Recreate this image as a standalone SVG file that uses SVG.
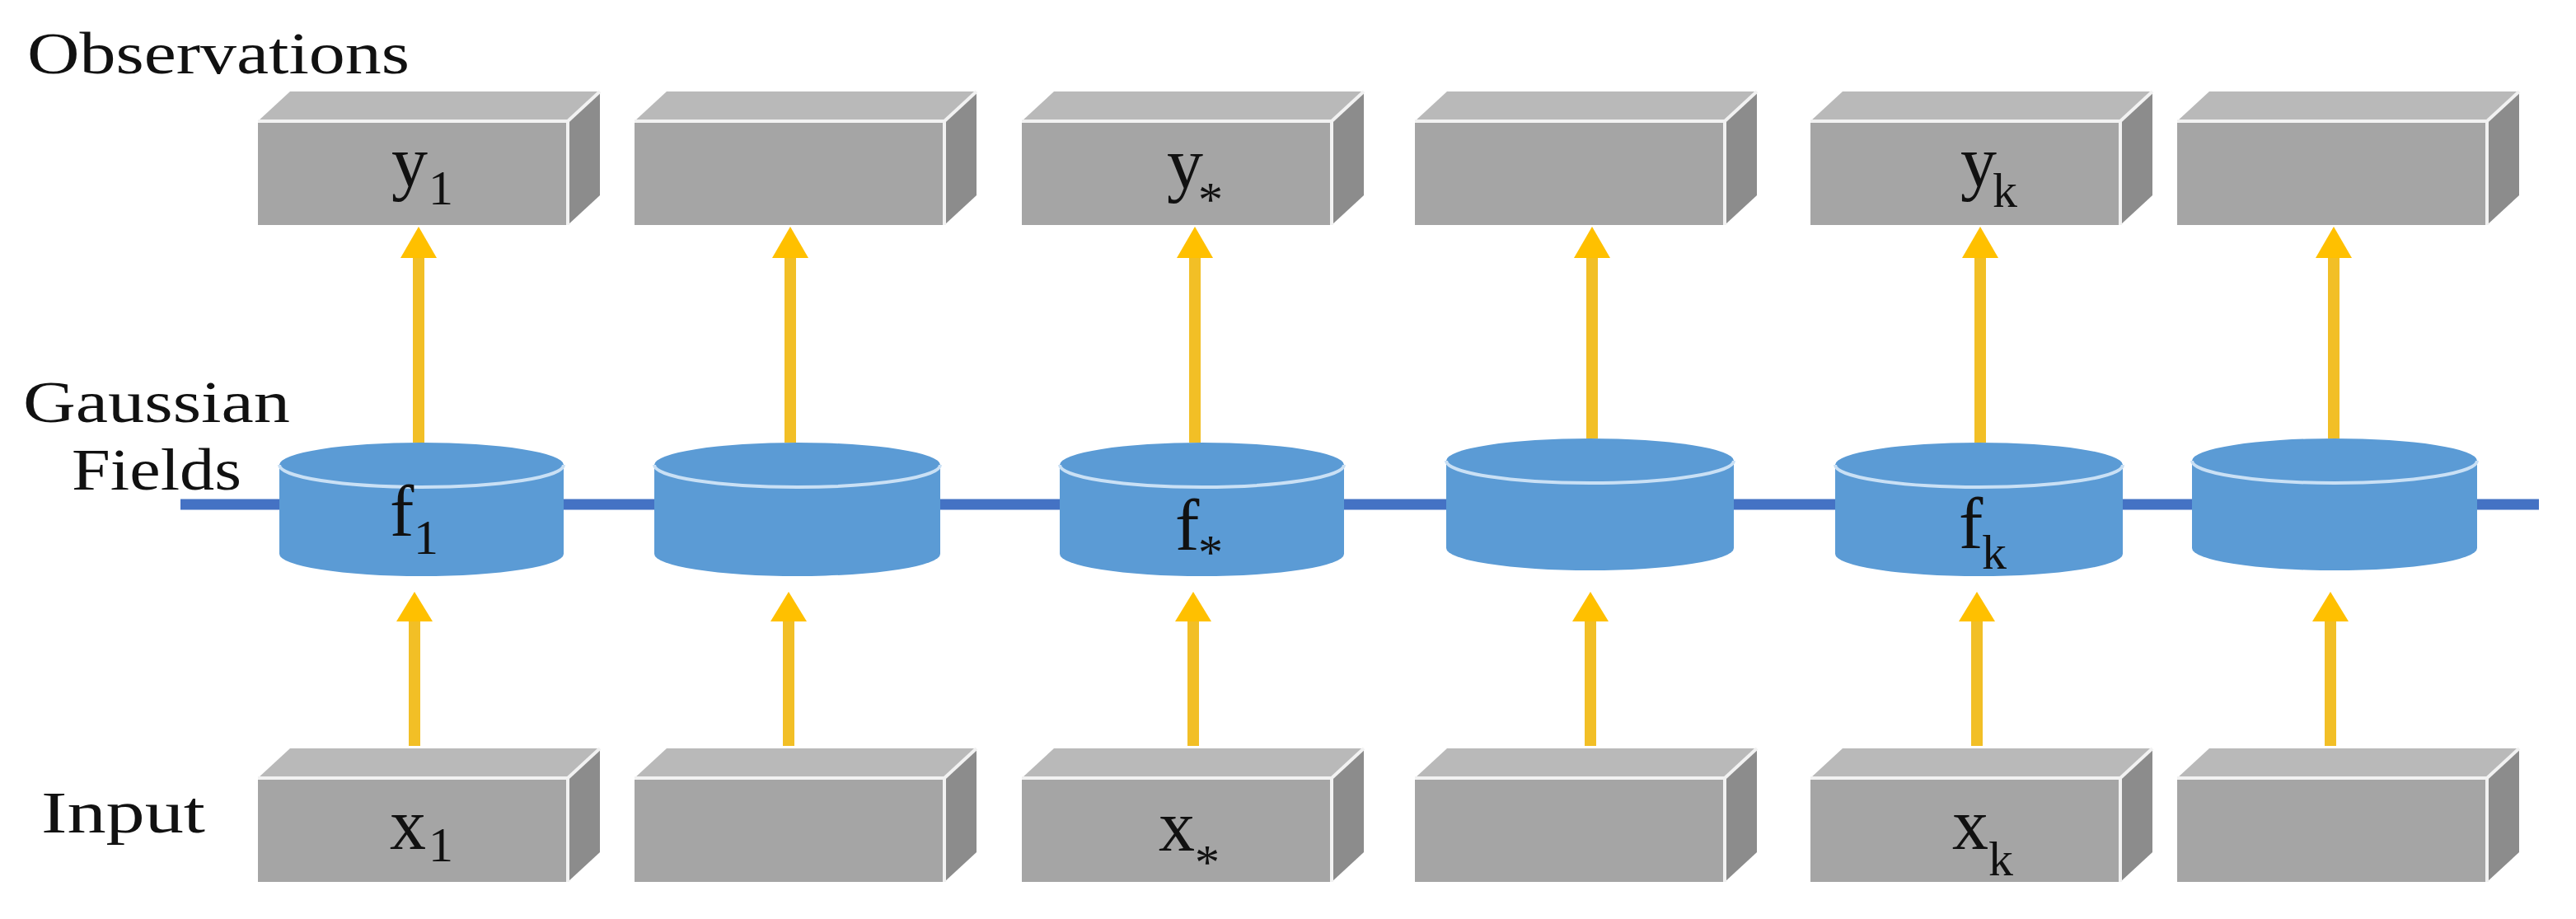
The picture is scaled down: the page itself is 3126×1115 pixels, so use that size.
<svg xmlns="http://www.w3.org/2000/svg" width="3126" height="1115" viewBox="0 0 3126 1115">
<defs>
<style>
.front{fill:#a5a5a5}
.top{fill:#b9b9b9}
.side{fill:#8c8c8c}
.edge{fill:none;stroke:#f2f2f2;stroke-width:4}
.cyl{fill:#5b9bd5}
.rim{fill:none;stroke:#c9e0f5;stroke-width:4}
.lbl{font-family:"Liberation Serif","DejaVu Serif",serif;fill:#111}
.main{font-size:88px}
.sub{font-size:60px}
.side-lbl{font-family:"Liberation Serif","DejaVu Serif",serif;font-size:72px;fill:#111}
.shaft{stroke:#f2bf26;stroke-width:14}
.head{fill:#ffc000}
.link{stroke:#4472c4;stroke-width:13}
</style>
<g id="box">
<polygon class="top" points="0,36 39,0 415,0 376,36"/>
<polygon class="side" points="376,36 415,0 415,126 376,162"/>
<rect class="front" x="0" y="36" width="376" height="126"/>
<polyline class="edge" points="0,36 376,36 376,162"/>
<line class="edge" x1="376" y1="36" x2="415" y2="0"/>
</g>
</defs>
<rect width="3126" height="1115" fill="#fff"/>
<text class="side-lbl" x="33" y="89" textLength="464" lengthAdjust="spacingAndGlyphs">Observations</text>
<text class="side-lbl" x="28" y="512" textLength="324" lengthAdjust="spacingAndGlyphs">Gaussian</text>
<text class="side-lbl" x="87" y="594" textLength="206" lengthAdjust="spacingAndGlyphs">Fields</text>
<text class="side-lbl" x="50" y="1010" textLength="199" lengthAdjust="spacingAndGlyphs">Input</text>

<g id="connectors">
<line class="link" x1="219" y1="612" x2="3081" y2="612"/>
<g id="arrows-up">
<line class="shaft" x1="508" y1="537" x2="508" y2="310"/><polygon class="head" points="508,275 486,313 530,313"/>
<line class="shaft" x1="959" y1="537" x2="959" y2="310"/><polygon class="head" points="959,275 937,313 981,313"/>
<line class="shaft" x1="1450" y1="537" x2="1450" y2="310"/><polygon class="head" points="1450,275 1428,313 1472,313"/>
<line class="shaft" x1="1932" y1="532" x2="1932" y2="310"/><polygon class="head" points="1932,275 1910,313 1954,313"/>
<line class="shaft" x1="2403" y1="537" x2="2403" y2="310"/><polygon class="head" points="2403,275 2381,313 2425,313"/>
<line class="shaft" x1="2832" y1="532" x2="2832" y2="310"/><polygon class="head" points="2832,275 2810,313 2854,313"/>
</g>
<g id="arrows-in">
<line class="shaft" x1="503" y1="905" x2="503" y2="750"/><polygon class="head" points="503,718 481,754 525,754"/>
<line class="shaft" x1="957" y1="905" x2="957" y2="750"/><polygon class="head" points="957,718 935,754 979,754"/>
<line class="shaft" x1="1448" y1="905" x2="1448" y2="750"/><polygon class="head" points="1448,718 1426,754 1470,754"/>
<line class="shaft" x1="1930" y1="905" x2="1930" y2="750"/><polygon class="head" points="1930,718 1908,754 1952,754"/>
<line class="shaft" x1="2399" y1="905" x2="2399" y2="750"/><polygon class="head" points="2399,718 2377,754 2421,754"/>
<line class="shaft" x1="2828" y1="905" x2="2828" y2="750"/><polygon class="head" points="2828,718 2806,754 2850,754"/>
</g>
</g>

<g id="obs1"><use href="#box" x="313" y="111"/><text class="lbl main" x="475" y="226">y</text><text class="lbl sub" x="520" y="248">1</text></g>
<g id="obs2"><use href="#box" x="770" y="111"/></g>
<g id="obs3"><use href="#box" x="1240" y="111"/><text class="lbl main" x="1416" y="228">y</text><text class="lbl sub" x="1454" y="262">*</text></g>
<g id="obs4"><use href="#box" x="1717" y="111"/></g>
<g id="obs5"><use href="#box" x="2197" y="111"/><text class="lbl main" x="2379" y="226">y</text><text class="lbl sub" x="2418" y="251">k</text></g>
<g id="obs6"><use href="#box" x="2642" y="111"/></g>

<g id="gf1"><path class="cyl" d="M339,564 V672 A172.5,27 0 0 0 684,672 V564 A172.5,27 0 0 0 339,564 Z"/><path class="rim" d="M339,564 A172.5,27 0 0 0 684,564"/><text class="lbl main" x="473" y="650">f</text><text class="lbl sub" x="502" y="672">1</text></g>
<g id="gf2"><path class="cyl" d="M794,564 V672 A173.5,27 0 0 0 1141,672 V564 A173.5,27 0 0 0 794,564 Z"/><path class="rim" d="M794,564 A173.5,27 0 0 0 1141,564"/></g>
<g id="gf3"><path class="cyl" d="M1286,564 V672 A172.5,27 0 0 0 1631,672 V564 A172.5,27 0 0 0 1286,564 Z"/><path class="rim" d="M1286,564 A172.5,27 0 0 0 1631,564"/><text class="lbl main" x="1426" y="667">f</text><text class="lbl sub" x="1454" y="690">*</text></g>
<g id="gf4"><path class="cyl" d="M1755,559 V665 A174.5,27 0 0 0 2104,665 V559 A174.5,27 0 0 0 1755,559 Z"/><path class="rim" d="M1755,559 A174.5,27 0 0 0 2104,559"/></g>
<g id="gf5"><path class="cyl" d="M2227,564 V672 A174.5,27 0 0 0 2576,672 V564 A174.5,27 0 0 0 2227,564 Z"/><path class="rim" d="M2227,564 A174.5,27 0 0 0 2576,564"/><text class="lbl main" x="2377" y="665">f</text><text class="lbl sub" x="2405" y="690">k</text></g>
<g id="gf6"><path class="cyl" d="M2660,559 V665 A173,27 0 0 0 3006,665 V559 A173,27 0 0 0 2660,559 Z"/><path class="rim" d="M2660,559 A173,27 0 0 0 3006,559"/></g>

<g id="in1"><use href="#box" x="313" y="908"/><text class="lbl main" x="473" y="1030">x</text><text class="lbl sub" x="520" y="1045">1</text></g>
<g id="in2"><use href="#box" x="770" y="908"/></g>
<g id="in3"><use href="#box" x="1240" y="908"/><text class="lbl main" x="1406" y="1032">x</text><text class="lbl sub" x="1450" y="1066">*</text></g>
<g id="in4"><use href="#box" x="1717" y="908"/></g>
<g id="in5"><use href="#box" x="2197" y="908"/><text class="lbl main" x="2369" y="1030">x</text><text class="lbl sub" x="2413" y="1062">k</text></g>
<g id="in6"><use href="#box" x="2642" y="908"/></g>
</svg>
